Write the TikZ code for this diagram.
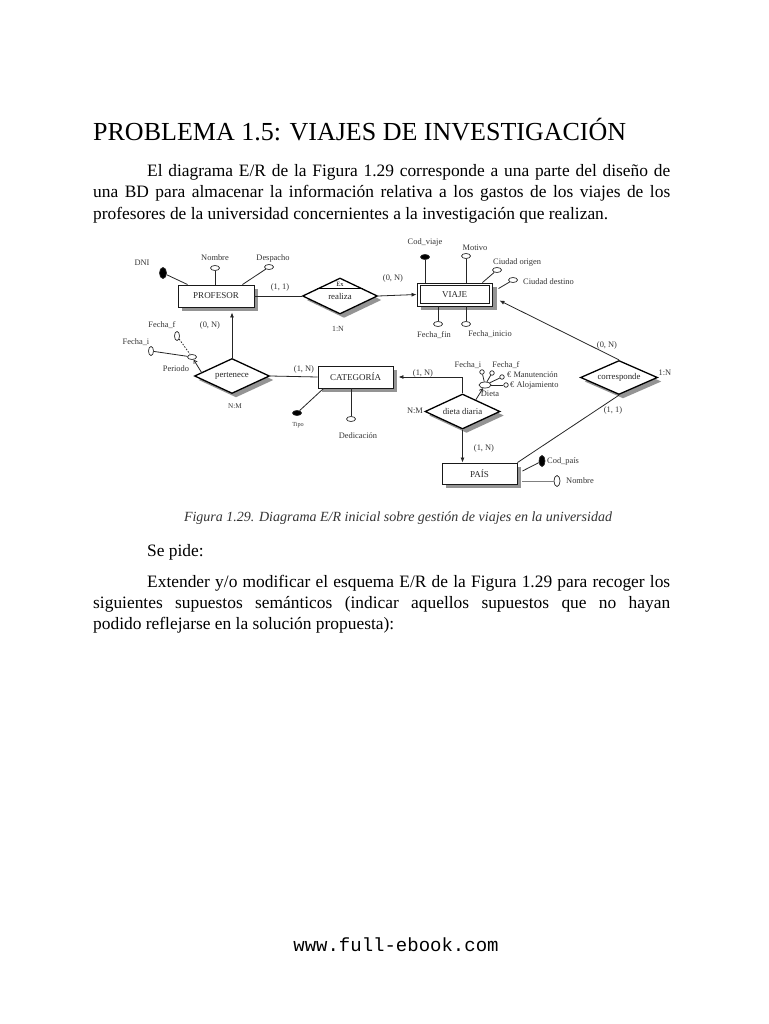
\documentclass[tikz,border=0pt]{standalone}
\usepackage{fontspec}
\setmainfont{Liberation Serif}
\setmonofont{Liberation Mono}
\usetikzlibrary{shapes.geometric,shadows,arrows.meta,calc}
\begin{document}
\begin{tikzpicture}[x=1pt,y=-1pt,
  every node/.style={inner sep=0pt},
  shad/.style={drop shadow={shadow xshift=4pt, shadow yshift=-4pt, fill=black!42, opacity=1}},
  ent/.style={draw=black!90, line width=0.9pt, fill=white, font=\fontsize{9}{10}\selectfont, text=black!85, shad},
  rel/.style={diamond, aspect=2.1, draw=black, line width=1.3pt, fill=white, minimum width=75pt, minimum height=35pt, font=\fontsize{8.8}{10}\selectfont, text=black!85, shad},
  lbl/.style={font=\fontsize{8.4}{9}\selectfont, text=black!80},
  attr/.style={ellipse, draw=black!85, line width=0.7pt, fill=white, minimum width=9pt, minimum height=5pt},
  vattr/.style={attr, minimum width=5pt, minimum height=9pt},
  keyattr/.style={attr, fill=black},
  vkey/.style={vattr, fill=black},
  subat/.style={circle, draw=black!85, line width=0.7pt, fill=white, minimum size=4.5pt},
  conn/.style={draw=black!85, line width=0.8pt},
  arr/.style={conn, -{Latex[length=5pt,width=4pt]}},
  oarr/.style={conn, -{Straight Barb[length=3pt,width=4pt]}},
  body/.style={font=\fontsize{17.4}{21}\selectfont, anchor=base west},
]
\fill[white] (0,0) rectangle (768,1024);
\useasboundingbox (0,0) rectangle (768,1024);

% ---------- text ----------
\node[font=\fontsize{26}{30}\selectfont, anchor=base west] (title) at (93,141) {PROBLEMA 1.5: VIAJES DE INVESTIGACIÓN};
\node[body] (p1a) at (147,177) {\makebox[523pt][s]{El diagrama E/R de la Figura 1.29 corresponde a una parte del diseño de}};
\node[body] (p1b) at (93,198) {\makebox[577pt][s]{una BD para almacenar la información relativa a los gastos de los viajes de los}};
\node[body] (p1c) at (93,219) {profesores de la universidad concernientes a la investigación que realizan.};
\node[font=\fontsize{14}{16}\selectfont\itshape, anchor=base, text=black!80] (cap) at (398,521) {Figura 1.29. Diagrama E/R inicial sobre gestión de viajes en la universidad};
\node[body] (sp) at (147,556) {Se pide:};
\node[body] (p3a) at (147,587) {\makebox[523pt][s]{Extender y/o modificar el esquema E/R de la Figura 1.29 para recoger los}};
\node[body] (p3b) at (93,608) {\makebox[577pt][s]{siguientes supuestos semánticos (indicar aquellos supuestos que no hayan}};
\node[body] (p3c) at (93,629) {podido reflejarse en la solución propuesta):};
\node[font=\ttfamily\fontsize{19}{22}\selectfont, anchor=base] (foot) at (396,951) {www.full-ebook.com};

% ---------- entities ----------
\node[ent, minimum width=76pt, minimum height=22pt] (prof) at (216,296) {PROFESOR};
\node[ent, minimum width=75pt, minimum height=23pt, drop shadow={shadow xshift=5pt, shadow yshift=-4pt, fill=black!42, opacity=1}] (viaje) at (454.5,294.5) {VIAJE};
\draw[draw=black!90, line width=0.9pt] ($(viaje.north west)+(3.5,3)$) rectangle ($(viaje.south east)+(-3.5,-3)$);
\node[ent, minimum width=75pt, minimum height=22pt] (cat) at (355.5,377) {CATEGORÍA};
\node[ent, minimum width=75pt, minimum height=21pt] (pais) at (479.5,473.5) {PAÍS};

% ---------- relationships ----------
\node[rel, minimum height=36pt] (realiza) at (340,296) {realiza};
\draw[draw=black, line width=0.8pt] ($(realiza.north)!0.6!(realiza.west)$) -- ($(realiza.north)!0.6!(realiza.east)$);
\node[font=\fontsize{6.5}{7}\selectfont] (ex) at (340,284.5) {Ex};
\node[rel] (pert) at (232,376) {pertenece};
\node[rel] (dieta) at (462.5,411.5) {dieta diaria};
\node[rel, minimum width=77pt, minimum height=34pt] (corr) at (619,377.5) {corresponde};

% ---------- connectors ----------
\draw[conn] (prof.east) -- (realiza.west);
\draw[arr] (realiza.east) -- (viaje.west);
\draw[arr] (pert.north) -- ($(pert.north |- prof.south)+(0,5)$);
\draw[conn] (pert.east) -- (cat.west);
\draw[arr] (dieta.north) |- ($(cat.east)+(5,0)$);
\draw[arr] (dieta.south) -- (dieta.south |- pais.north);
\draw[arr] (corr.north) -- ($(viaje.east)+(7,6)$);
\draw[conn] (corr.south) -- (pais.north east);

% ---------- cardinalities ----------
\node[lbl] (l1) at (280,287) {(1, 1)};
\node[lbl, font=\fontsize{7.8}{8}\selectfont] (l2) at (338,329) {1:N};
\node[lbl] (l3) at (393,278) {(0, N)};
\node[lbl] (l4) at (210,325) {(0, N)};
\node[lbl] (l5) at (304,369) {(1, N)};
\node[lbl, font=\fontsize{7.2}{8}\selectfont] (l6) at (235,406) {N:M};
\node[lbl] (l7) at (423,373) {(1, N)};
\node[lbl] (l8) at (415,411) {N:M};
\node[lbl] (l9) at (484,448) {(1, N)};
\node[lbl] (l10) at (607,345) {(0, N)};
\node[lbl] (l11) at (665,373) {1:N};
\node[lbl] (l12) at (613,410) {(1, 1)};

% ---------- PROFESOR attributes ----------
\node[vkey, minimum width=7pt, minimum height=11pt] (dni) at (163,273) {};
\node[lbl] (dnil) at (142,263) {DNI};
\draw[conn] (dni) -- ($(prof.north west)+(10,0)$);
\node[attr] (pnom) at (215,268) {};
\node[lbl] (pnoml) at (215,258) {Nombre};
\draw[conn] (pnom) -- (pnom |- prof.north);
\node[attr] (desp) at (269,267) {};
\node[lbl] (despl) at (273,258) {Despacho};
\draw[conn] (desp) -- ($(prof.north east)+(-12,0)$);

% ---------- VIAJE attributes ----------
\node[keyattr] (codv) at (425,257) {};
\node[lbl] (codvl) at (425,242) {Cod\_viaje};
\draw[conn] (codv) -- (codv |- viaje.north);
\node[attr] (motivo) at (466,256) {};
\node[lbl] (motivol) at (475,248) {Motivo};
\draw[conn] (motivo) -- (motivo |- viaje.north);
\node[attr] (corig) at (497,270) {};
\node[lbl, anchor=west] (corigl) at (493,262) {Ciudad origen};
\draw[conn] (corig) -- ($(viaje.north east)+(-10,0)$);
\node[attr] (cdest) at (513,280) {};
\node[lbl, anchor=west] (cdestl) at (523,282) {Ciudad destino};
\draw[conn] (cdest) -- ($(viaje.north east)+(6,6)$);
\node[attr] (ffin) at (438,324) {};
\node[lbl] (ffinl) at (434,335) {Fecha\_fin};
\draw[conn] (ffin) -- (ffin |- viaje.south);
\node[attr] (fini) at (466,324) {};
\node[lbl] (finil) at (490,334) {Fecha\_inicio};
\draw[conn] (fini) -- (fini |- viaje.south);

% ---------- CATEGORIA attributes ----------
\node[keyattr] (tipo) at (297,413) {};
\node[lbl, font=\fontsize{6.2}{7}\selectfont] (tipol) at (298,425) {Tipo};
\draw[conn] (tipo) -- ($(cat.south west)+(6,0)$);
\node[attr] (dedic) at (351,419) {};
\node[lbl] (dedicl) at (358,436) {Dedicación};
\draw[conn] (dedic) -- (dedic |- cat.south);

% ---------- PAIS attributes ----------
\node[vkey, minimum width=6pt, minimum height=11pt] (codpais) at (542,461) {};
\node[lbl, anchor=west] (codpaisl) at (547,461) {Cod\_país};
\draw[conn] ($(pais.east)+(5,-2.5)$) -- (codpais);
\node[vattr, minimum width=6pt, minimum height=11pt] (pnombre) at (557,481) {};
\node[lbl, anchor=west] (pnombrel) at (566,481) {Nombre};
\draw[conn, draw=black!50] ($(pais.east)+(5,7.5)$) -- (pnombre);

% ---------- Periodo ----------
\node[attr] (periodo) at (192,357) {};
\node[lbl] (periodol) at (176,369) {Periodo};
\draw[oarr] ($(pert.west)!0.2!(pert.north)$) -- (periodo);
\node[vattr] (pfi) at (151,351) {};
\node[lbl] (pfil) at (136,342) {Fecha\_i};
\draw[conn] (pfi) -- (periodo);
\node[vattr] (pff) at (177,336) {};
\node[lbl] (pffl) at (162,325) {Fecha\_f};
\draw[conn, dash pattern=on 1.5pt off 1.5pt] (pff) -- (periodo);

% ---------- Dieta ----------
\node[attr, minimum width=12pt, minimum height=6pt] (dietaat) at (485,385) {};
\node[lbl] (dietal) at (490,394) {Dieta};
\draw[oarr] ($(dieta.north)!0.35!(dieta.east)$) -- (dietaat);
\node[subat] (dfi) at (482,372) {};
\node[lbl] (dfil) at (468,365) {Fecha\_i};
\node[subat] (dff) at (492,373) {};
\node[lbl] (dffl) at (506,365) {Fecha\_f};
\node[subat] (dman) at (502,377) {};
\node[lbl, anchor=west] (dmanl) at (507,375) {€ Manutención};
\node[subat] (dalo) at (506,385) {};
\node[lbl, anchor=west] (dalol) at (510,385) {€ Alojamiento};
\draw[conn] (dietaat) -- (dfi);
\draw[conn] (dietaat) -- (dff);
\draw[conn] (dietaat) -- (dman);
\draw[conn] (dietaat) -- (dalo);
\end{tikzpicture}
\end{document}
